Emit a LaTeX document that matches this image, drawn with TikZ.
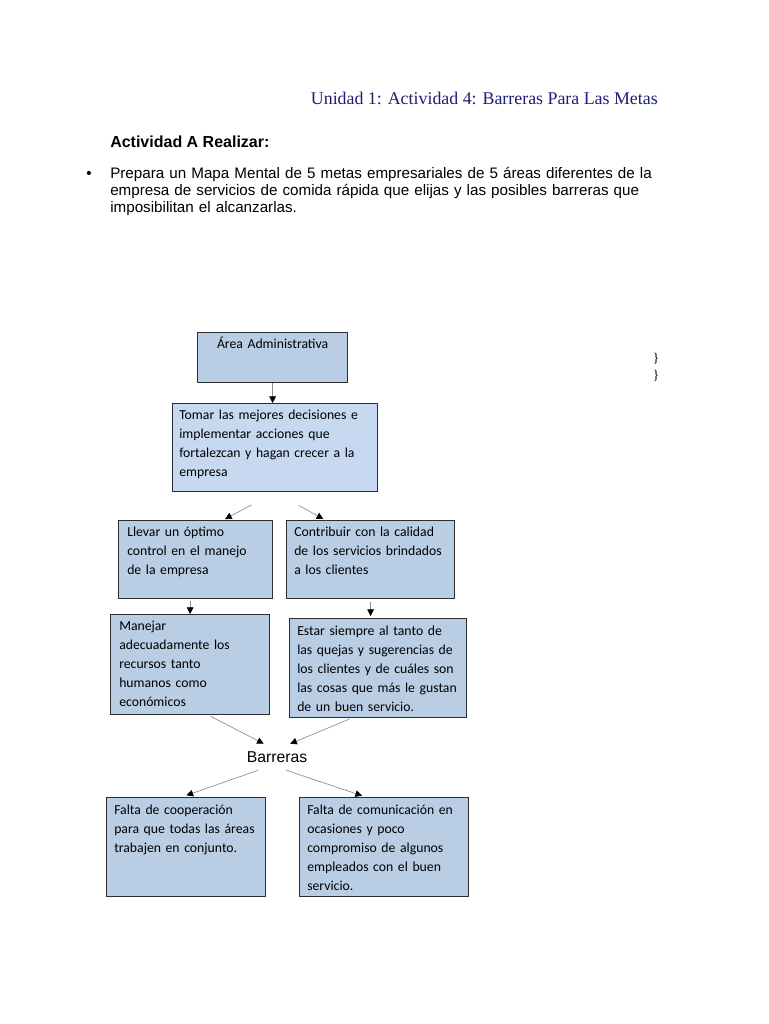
\documentclass[tikz,border=0pt]{standalone}
\usepackage{fontspec}
\setmainfont{Liberation Serif}
\newfontfamily\calibri{Carlito}
\newfontfamily\arial{Liberation Sans}
\usetikzlibrary{
	arrows.meta,
	positioning,
	calc,
}
\definecolor{boxblue}{RGB}{185,205,229}
\definecolor{boxlight}{RGB}{198,217,241}
\definecolor{boxline}{RGB}{45,45,45}
\definecolor{titlenavy}{RGB}{30,30,118}
\tikzset{goal/.style={
		% The shape:
		rectangle,anchor=north west,
		% The border:
		draw=boxline,line width=0.9pt,
		% The filling:
		fill=boxblue,
		% the text, set from the top left corner
		font=\calibri\fontsize{10.3pt}{14.25pt}\selectfont,
		align=left,inner ysep=0pt,inner xsep=6pt,
		text height=12pt,
}}
\tikzset{link/.style={
		% thin grey line with a small black tip
		-{Triangle[length=5pt,width=5pt,black]},
		draw=black!45,line width=0.5pt,
}}

\begin{document}
\begin{tikzpicture}[x=0.75pt,y=-0.75pt,inner sep=0pt]
	\useasboundingbox (0,0) rectangle (768,1024);
	% heading and task
	\node [anchor=base east,text=titlenavy,font=\fontsize{13.4pt}{16pt}\selectfont] (title) at (658,104) {Unidad 1: Actividad 4: Barreras Para Las Metas};
	\node [anchor=base west,font=\arial\bfseries\fontsize{12pt}{14pt}\selectfont] (task) at (110,147) {Actividad A Realizar:};
	\node [anchor=base,font=\arial\fontsize{11.4pt}{12.75pt}\selectfont] (bullet) at (89,178) {•};
	\node [anchor=north west,text width=440pt,align=left,text height=9pt,font=\arial\fontsize{11.4pt}{12.75pt}\selectfont] (prompt) at (110,166) {Prepara un Mapa Mental de 5 metas empresariales de 5 áreas diferentes de la\\empresa de servicios de comida rápida que elijas y las posibles barreras que\\imposibilitan el alcanzarlas.};
	\node [anchor=base,font=\fontsize{10pt}{12pt}\selectfont] (brace1) at (656,362) {\}};
	\node [anchor=base,font=\fontsize{10pt}{12pt}\selectfont] (brace2) at (656,379) {\}};
	% goal boxes
	\node [goal,align=center,inner xsep=0pt,text width=112.5pt,text depth=25.5pt] (admin) at (197,332) {Área Administrativa};
	\node [goal,fill=boxlight,inner xsep=5pt,text width=143.75pt,text depth=54pt] (tomar) at (172,403) {Tomar las mejores decisiones e\\implementar acciones que\\fortalezcan y hagan crecer a la\\empresa};
	\node [goal,inner xsep=6.5pt,text width=102.5pt,text depth=46.5pt] (llevar) at (118,520) {Llevar un óptimo\\control en el manejo\\de la empresa};
	\node [goal,inner xsep=5.75pt,text width=114.5pt,text depth=46.5pt] (contribuir) at (286,520) {Contribuir con la calidad\\de los servicios brindados\\a los clientes};
	\node [goal,inner xsep=6.5pt,text width=106.25pt,text depth=63pt] (manejar) at (110,614) {Manejar\\adecuadamente los\\recursos tanto\\humanos como\\económicos};
	\node [goal,inner xsep=5.75pt,text width=121.25pt,text height=12.75pt,text depth=61.5pt] (estar) at (289,618) {Estar siempre al tanto de\\las quejas y sugerencias de\\los clientes y de cuáles son\\las cosas que más le gustan\\de un buen servicio.};
	\node [font=\arial\fontsize{11.8pt}{13pt}\selectfont,inner xsep=4pt,minimum height=19.5pt] (barreras) at (277,757) {Barreras};
	\node [goal,inner xsep=5.75pt,text width=107.75pt,text height=12.75pt,text depth=61.5pt] (falta1) at (106,797) {Falta de cooperación\\para que todas las áreas\\trabajen en conjunto.};
	\node [goal,inner xsep=5.75pt,text width=115.25pt,text height=12.75pt,text depth=61.5pt] (falta2) at (299,797) {Falta de comunicación en\\ocasiones y poco\\compromiso de algunos\\empleados con el buen\\servicio.};
	% connectors
	\draw [link] (admin.south) -- (admin.south |- tomar.north);
	\draw [link,shorten <=20pt,shorten >=1.5pt] (tomar.south) -- (llevar.55);
	\draw [link,shorten <=20pt,shorten >=1.5pt] (tomar.south) -- (contribuir.139);
	\draw [link,shorten <=1pt] (manejar.north |- llevar.south) -- (manejar.north);
	\draw [link,shorten <=2pt,shorten >=1.5pt] (contribuir.south) -- (contribuir.south |- estar.north);
	\draw [link,shorten <=1.5pt] (manejar.-70) -- (barreras.135);
	\draw [link,shorten <=1.5pt] (estar.-118) -- (barreras.45);
	\draw [link,shorten >=3.75pt] (barreras.-145) -- (falta1.95);
	\draw [link,shorten >=3pt] (barreras.-55) -- (falta2.110);
\end{tikzpicture}
\end{document}
